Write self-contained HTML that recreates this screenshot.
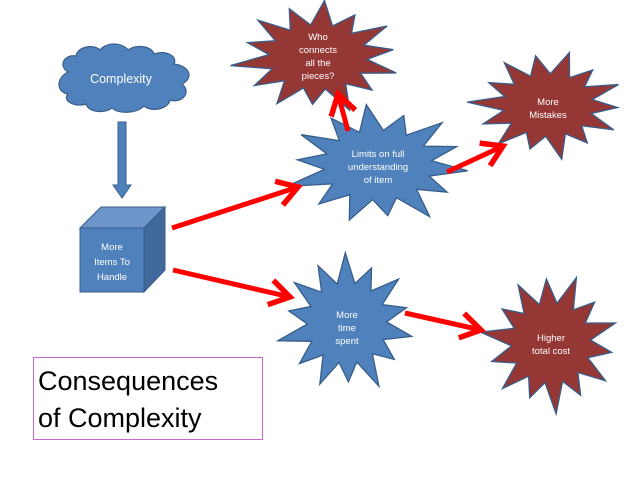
<!DOCTYPE html>
<html><head><meta charset="utf-8"><style>
body{margin:0;background:#fff;width:638px;height:479px;overflow:hidden;font-family:"Liberation Sans",sans-serif}
svg{position:absolute;left:0;top:0}
.t{fill:#fff;font-size:9.5px;text-anchor:middle;font-family:"Liberation Sans",sans-serif}
</style></head><body>
<svg id="s" width="638" height="479" viewBox="0 0 638 479">
<defs>
<marker id="ah" markerWidth="6" markerHeight="6" refX="4.5" refY="3" orient="auto" markerUnits="strokeWidth">
<path d="M0.5,0.5 L4.5,3 L0.5,5.5" fill="none" stroke="#f00" stroke-width="1.1"/>
</marker>
</defs>
<g fill="#4f81bd" stroke="#385d8a" stroke-width="1.2">
<path d="M68,72 C58,66 64,54 76,56 C78,46 94,44 100,50 C106,42 122,42 128,50 C136,44 152,46 154,54 C166,50 178,56 174,64 C190,66 194,78 182,84 C192,92 182,104 170,100 C168,110 150,112 144,106 C136,114 118,114 112,108 C104,114 88,112 86,104 C74,108 62,100 68,94 C56,92 56,78 68,72 Z"/>
</g>
<text x="121" y="83" fill="#fff" font-size="12.5" text-anchor="middle" font-family="Liberation Sans,sans-serif">Complexity</text>
<path d="M118,122 H126 V185 H131 L122,198 L113,185 H118 Z" fill="#4f81bd" stroke="#385d8a"/>
<g stroke="#385d8a" stroke-width="1">
<path d="M80,228 L101,207 L165,207 L144,228 Z" fill="#6d95c9"/>
<path d="M144,228 L165,207 L165,270 L144,292 Z" fill="#41699c"/>
<rect x="80" y="228" width="64" height="64" fill="#4f81bd"/>
</g>
<text class="t" x="112" y="250">More</text>
<text class="t" x="112" y="265">Items To</text>
<text class="t" x="112" y="280">Handle</text>
<g id="stars"></g>
<g stroke="#f00" stroke-width="5" fill="none" marker-end="url(#ah)">
<line x1="172" y1="228" x2="298" y2="187"/>
<line x1="173" y1="270" x2="290" y2="297"/>
<line x1="348" y1="131" x2="338" y2="94"/>
<line x1="447" y1="172" x2="503" y2="146"/>
<line x1="405" y1="313" x2="481" y2="330"/>
</g>
<g id="txt"></g>
<rect x="33.5" y="357.5" width="229" height="82" fill="none" stroke="#cc66cc" stroke-width="1"/>
<text x="38" y="390" font-size="27" font-family="Liberation Sans,sans-serif" fill="#000">Consequences</text>
<text x="38" y="427" font-size="27" font-family="Liberation Sans,sans-serif" fill="#000">of Complexity</text>
</svg>
<script>
var stars=[
 {cx:318,cy:57,rx:82,ry:54,c:"#953735",n:14,ph:0.3,lines:["Who","connects","all the","pieces?"],ty:40},
 {cx:378,cy:165,rx:90,ry:58,c:"#4f81bd",n:14,ph:0.1,lines:["Limits on full","understanding","of item"],ty:157},
 {cx:548,cy:105,rx:75,ry:52,c:"#953735",n:14,ph:0.5,lines:["More","Mistakes"],ty:105},
 {cx:347,cy:323,rx:66,ry:67,c:"#4f81bd",n:14,ph:0.2,lines:["More","time","spent"],ty:318},
 {cx:551,cy:343,rx:66,ry:67,c:"#953735",n:14,ph:0.6,lines:["Higher","total cost"],ty:341}
];
var rr=[1,0.9,1.06,0.88,1,0.94,1.08,0.9,1,0.96,1.05,0.9,1.02,0.93];
var g=document.getElementById("stars"),tg=document.getElementById("txt"),ns="http://www.w3.org/2000/svg";
stars.forEach(function(s){
 var p=[];
 for(var i=0;i<s.n*2;i++){
  var a=s.ph+i*Math.PI/s.n, r=(i%2==0)?rr[(i/2)%14]:0.6;
  p.push((s.cx+Math.cos(a)*s.rx*r).toFixed(1)+","+(s.cy+Math.sin(a)*s.ry*r).toFixed(1));
 }
 var pg=document.createElementNS(ns,"polygon");
 pg.setAttribute("points",p.join(" "));pg.setAttribute("fill",s.c);pg.setAttribute("stroke","#385d8a");pg.setAttribute("stroke-width","1.3");
 g.appendChild(pg);
 s.lines.forEach(function(l,k){
  var t=document.createElementNS(ns,"text");t.setAttribute("class","t");
  t.setAttribute("x",s.cx);t.setAttribute("y",s.ty+k*13);t.textContent=l;tg.appendChild(t);
 });
});
</script>
</body></html>
